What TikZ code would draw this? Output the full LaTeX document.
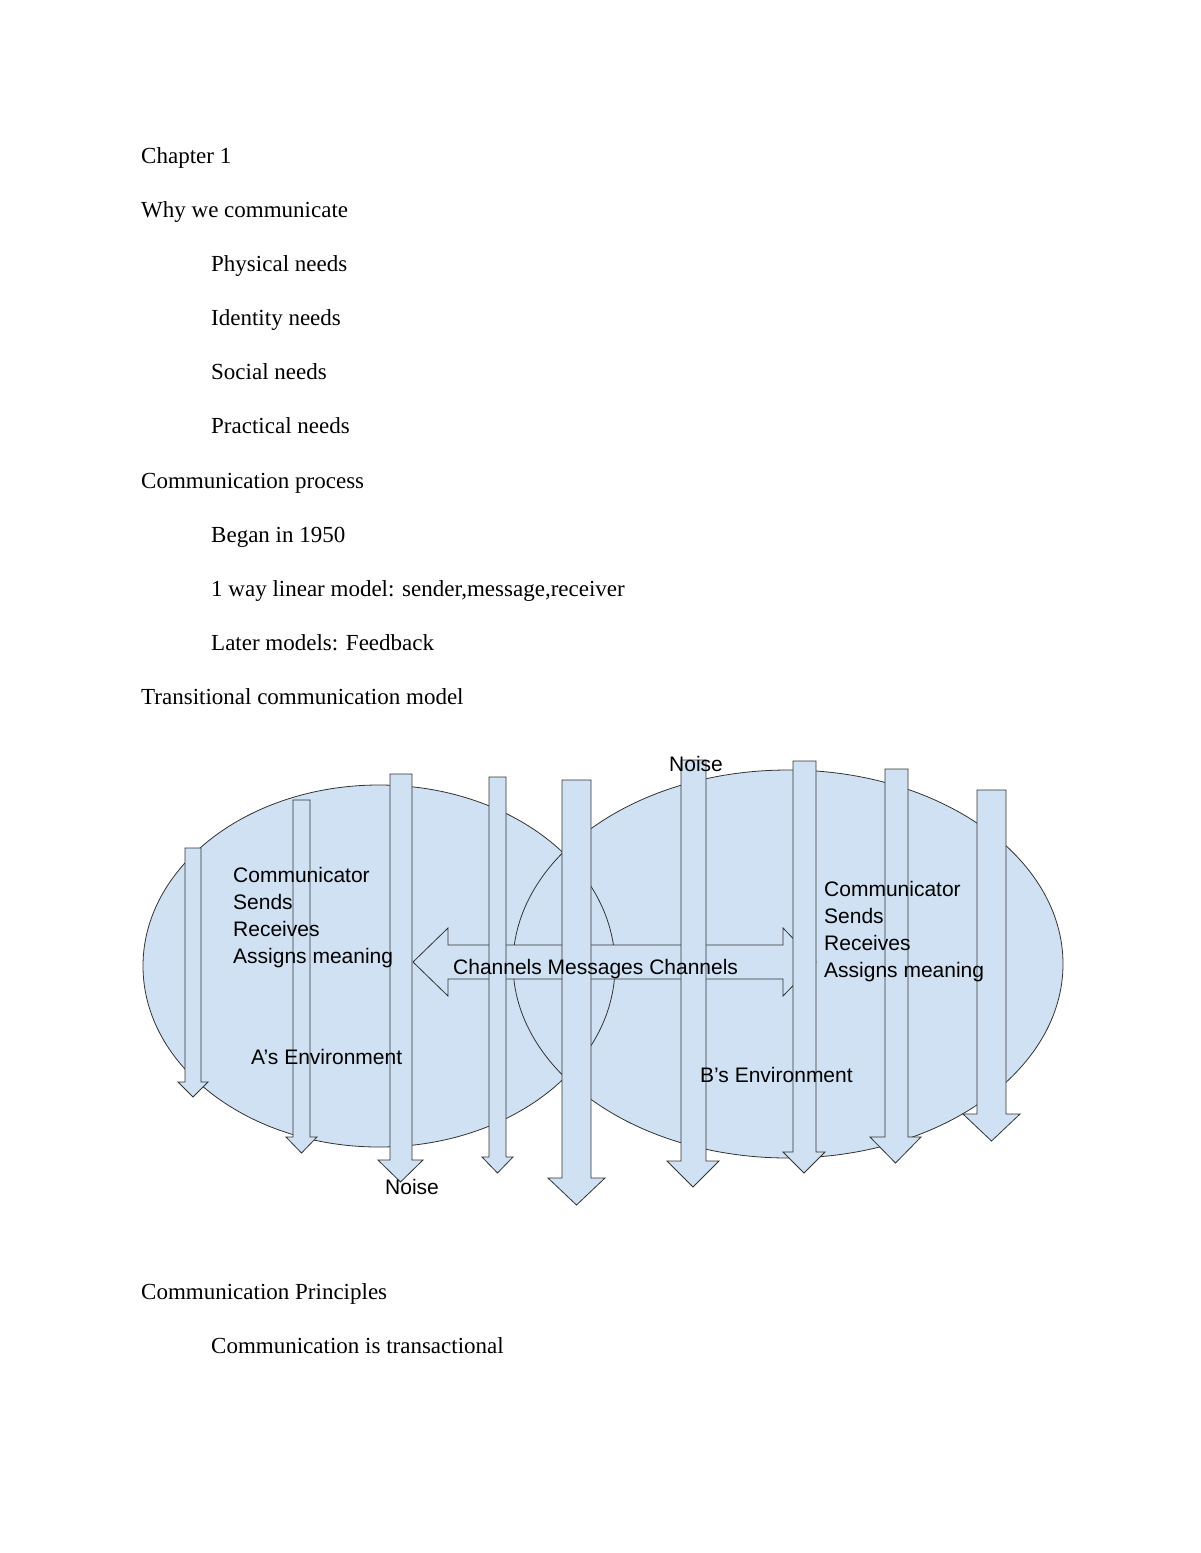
\documentclass[tikz,border=0pt]{standalone}
\usepackage{fontspec}
\setmainfont{Liberation Serif}
\setsansfont{Liberation Sans}
\begin{document}
\begin{tikzpicture}[x=1pt,y=-1pt,
  body/.style={anchor=base west,inner sep=0pt,font=\fontsize{23}{28}\selectfont},
  lab/.style={anchor=base west,inner sep=0pt,font=\sffamily\fontsize{21}{27}\selectfont},
  shp/.style={fill=blue!20!cyan!15!white, draw=black!80, line width=0.8pt}]
\definecolor{lb}{RGB}{207,225,242}
\tikzset{shp/.style={fill=lb,draw=black!80,line width=0.8pt}}
\useasboundingbox (0,0) rectangle (1200,1553);
% body text
\node[body] (t1) at (141,163) {Chapter 1};
\node[body] (t2) at (141,217) {Why we communicate};
\node[body] (t3) at (211,271) {Physical needs};
\node[body] (t4) at (211,325) {Identity needs};
\node[body] (t5) at (211,379) {Social needs};
\node[body] (t6) at (211,433) {Practical needs};
\node[body] (t7) at (141,488) {Communication process};
\node[body] (t8) at (211,542) {Began in 1950};
\node[body] (t9) at (211,596) {1 way linear model: sender,message,receiver};
\node[body] (t10) at (211,650) {Later models: Feedback};
\node[body] (t11) at (141,704) {Transitional communication model};
\node[body] (t12) at (141,1299) {Communication Principles};
\node[body] (t13) at (211,1353) {Communication is transactional};
% ellipses
\fill[lb] (379,966) ellipse [x radius=236,y radius=181];
\fill[lb] (788,964) ellipse [x radius=275,y radius=194];
\draw[black!80,line width=0.8pt] (379,966) ellipse [x radius=236,y radius=181];
\draw[black!80,line width=0.8pt] (788,964) ellipse [x radius=275,y radius=194];
% double arrow
\draw[shp] (413,962) -- (448,928) -- (448,945) -- (783,945) -- (783,928) -- (816,962) -- (783,996) -- (783,979) -- (448,979) -- (448,996) -- cycle;
% down arrows: x1 x2 hx1 hx2 top base tip
\foreach \a/\b/\c/\d/\t/\s/\p in {
 185/201/178/208/848/1082/1097,
 293/310/286/317/800/1137/1153,
 390/412/378/423/774/1160/1182,
 489/506/482/513/777/1157/1173,
 562/591/548/605/780/1178/1205,
 681/706/667/719/760/1161/1187,
 793/816/783/825/761/1152/1173,
 885/908/870/921/769/1137/1163,
 977/1006/963/1020/790/1114/1141}{
 \draw[shp] (\a,\t) -- (\b,\t) -- (\b,\s) -- (\d,\s) -- ({(\c+\d)/2},\p) -- (\c,\s) -- (\a,\s) -- cycle;
}
% labels
\node[lab] (l1) at (233,882) {Communicator};
\node[lab] (l2) at (233,909) {Sends};
\node[lab] (l3) at (233,936) {Receives};
\node[lab] (l4) at (233,963) {Assigns meaning};
\node[lab] (r1) at (824,896) {Communicator};
\node[lab] (r2) at (824,923) {Sends};
\node[lab] (r3) at (824,950) {Receives};
\node[lab] (r4) at (824,977) {Assigns meaning};
\node[lab] (ch) at (453,974) {Channels Messages Channels};
\node[lab] (ae) at (251,1064) {A’s Environment};
\node[lab] (be) at (700,1082) {B’s Environment};
\node[lab] (n1) at (669,771) {Noise};
\node[lab] (n2) at (385,1194) {Noise};
\end{tikzpicture}
\end{document}
